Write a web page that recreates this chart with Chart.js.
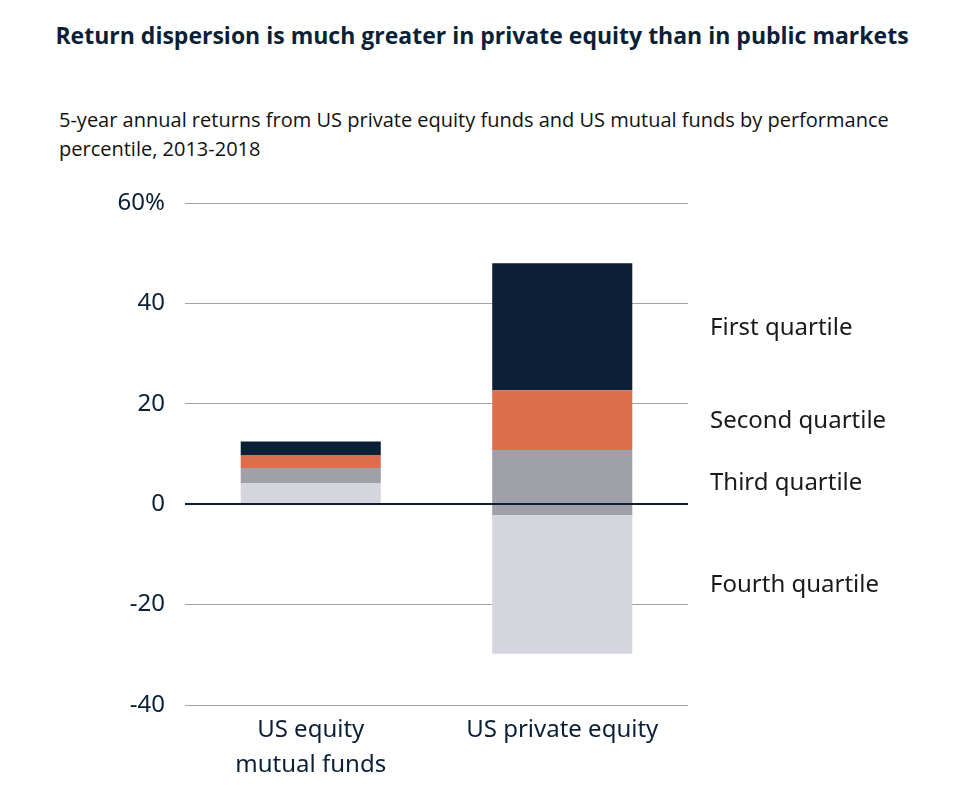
<!DOCTYPE html>
<html>
<head>
<meta charset="utf-8">
<script src="https://cdn.jsdelivr.net/npm/chart.js@4.4.1/dist/chart.umd.min.js"></script>
<style>
    body { margin: 0; background: #fff; width: 964px; height: 810px; position: relative; overflow: hidden; }
    #titulo { position: absolute; left: 0; width: 964px; top: 19px; text-align: center; font-family: 'Open Sans', sans-serif; font-weight: bold; font-size: 23px; color: #0b1f36; line-height: 32px; }
    #subtitulo { position: absolute; left: 59px; top: 105px; font-family: 'Open Sans', sans-serif; font-size: 20px; color: #111; line-height: 29px; }
    #wrap { position: absolute; left: 0; top: 0; width: 964px; height: 810px; }
</style>
</head>
<body>
<div id="titulo">Return dispersion is much greater in private equity than in public markets</div>
<div id="subtitulo">5-year annual returns from US private equity funds and US mutual funds by performance<br>percentile, 2013-2018</div>
<div id="wrap"><canvas id="grafico"></canvas></div>
<script>
// dados (percentual, faixa [base, topo])
const categorias = [['US equity', 'mutual funds'], 'US private equity'];
const quartoQuartil = [[0, 4.2], [-29.8, -2.2]];
const terceiroQuartil = [[4.2, 7.2], [-2.2, 10.8]];
const segundoQuartil = [[7.2, 9.8], [10.8, 22.7]];
const primeiroQuartil = [[9.8, 12.5], [22.7, 48]];
const ticksY = [60, 40, 20, 0, -20, -40];

const corTexto = '#0b1f36';
const fonteEixo = "'Noto Sans', sans-serif";

// linha do zero por cima das barras + rotulos dos quartis a direita
const extrasPlugin = {
    id: 'extras',
    afterDatasetsDraw(chart) {
        const ctx = chart.ctx;
        const area = chart.chartArea;
        const y = chart.scales.y;
        const y0 = Math.round(y.getPixelForValue(0));
        ctx.save();
        ctx.strokeStyle = '#0b1f36';
        ctx.lineWidth = 2;
        ctx.beginPath();
        ctx.moveTo(area.left, y0);
        ctx.lineTo(area.right, y0);
        ctx.stroke();

        ctx.fillStyle = '#1a1a1a';
        ctx.font = "24px " + fonteEixo;
        ctx.textAlign = 'left';
        ctx.textBaseline = 'middle';
        chart.data.datasets.forEach(ds => {
            const faixa = ds.data[1];
            const meio = (faixa[0] + faixa[1]) / 2;
            ctx.fillText(ds.label, area.right + 22, y.getPixelForValue(meio) + 1);
        });
        ctx.restore();
    }
};

new Chart(document.getElementById('grafico').getContext('2d'), {
    type: 'bar',
    data: {
        labels: categorias,
        datasets: [
            { label: 'Fourth quartile', data: quartoQuartil, backgroundColor: '#d5d5de' },
            { label: 'Third quartile', data: terceiroQuartil, backgroundColor: '#a0a0a9' },
            { label: 'Second quartile', data: segundoQuartil, backgroundColor: '#dd6d4b' },
            { label: 'First quartile', data: primeiroQuartil, backgroundColor: '#0b1f36' }
        ]
    },
    options: {
        responsive: true,
        maintainAspectRatio: false,
        animation: false,
        layout: { padding: { left: 0, right: 276, top: 203, bottom: 0 } },
        plugins: {
            legend: { display: false },
            tooltip: { enabled: false }
        },
        datasets: {
            bar: { grouped: false, barPercentage: 0.557, categoryPercentage: 1, borderSkipped: false }
        },
        scales: {
            x: {
                grid: { display: false, drawTicks: false },
                border: { display: false },
                ticks: { color: corTexto, font: { family: fonteEixo, size: 24, lineHeight: 1.45 }, padding: 8, maxRotation: 0 },
                afterFit: (scale) => { scale.height = 105; }
            },
            y: {
                min: -40,
                max: 60,
                afterBuildTicks: (scale) => { scale.ticks = ticksY.map(v => ({ value: v })); },
                grid: {
                    color: (c) => c.tick && c.tick.value === 0 ? 'rgba(0,0,0,0)' : '#a3a3a3',
                    lineWidth: 1,
                    drawTicks: false
                },
                border: { display: false },
                ticks: {
                    color: corTexto,
                    font: { family: fonteEixo, size: 24 },
                    padding: 20,
                    callback: (v) => v === 60 ? v + '%' : v
                },
                afterFit: (scale) => { scale.width = 185; }
            }
        }
    },
    plugins: [extrasPlugin]
});
</script>
</body>
</html>
